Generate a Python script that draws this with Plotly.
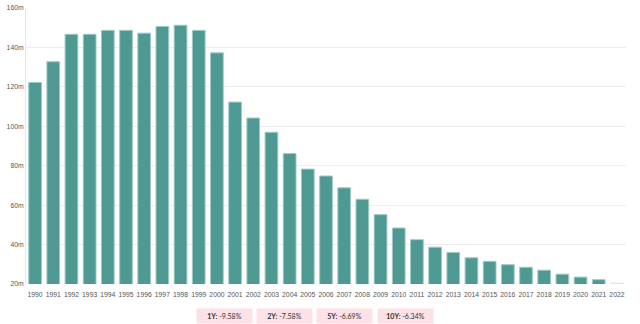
import plotly.graph_objects as go

years = [str(y) for y in range(1990, 2023)]
values = [122.3, 132.8, 146.7, 146.7, 148.7, 148.7, 147.3, 150.7, 151.3, 148.7,
          137.3, 112.3, 104.2, 97.0, 86.2, 78.3, 74.8, 68.8, 63.0, 55.2,
          48.4, 42.5, 38.7, 36.0, 33.3, 31.5, 29.8, 28.5, 27.0, 25.0,
          23.5, 22.2, 20.5]
tick_vals = [20, 40, 60, 80, 100, 120, 140, 160]
tick_text = ["20m", "40m", "60m", "80m", "100m", "120m", "140m", "160m"]
pill_labels = ["1Y:", "2Y:", "5Y:", "10Y:"]
pill_values = ["-9.58%", "-7.58%", "-6.69%", "-6.34%"]

base_color = "#4e9a93"
colors = [base_color] * (len(years) - 1) + ["rgba(78,154,147,0.15)"]
line_colors = ["#9fcbc6"] * (len(years) - 1) + ["rgba(78,154,147,0.15)"]

fig = go.Figure(go.Bar(
    x=years, y=values,
    marker=dict(color=colors, line=dict(color=line_colors, width=1)),
))

fig.update_layout(
    width=640, height=324,
    margin=dict(l=26, r=14, t=4, b=40),
    paper_bgcolor="white", plot_bgcolor="white",
    bargap=0.3,
    showlegend=False,
    font=dict(family="Liberation Sans, Arial, sans-serif", size=7, color="#555"),
    xaxis=dict(type="category", showgrid=False, ticks="", tickfont=dict(size=6.8, color="#555"),
               showline=False, zeroline=False, tickangle=0, ticklabelstandoff=5),
    yaxis=dict(range=[20, 160.05], tickvals=tick_vals, ticktext=tick_text,
               showgrid=True, gridcolor="#ececec", gridwidth=1,
               showline=True, linecolor="#e6e6e6", linewidth=1,
               zeroline=False, ticks="", tickfont=dict(size=6.8, color="#555")),
)

annotations = []
for i, (lab, val) in enumerate(zip(pill_labels, pill_values)):
    cx = 224.2 + i * 60.3
    annotations.append(dict(
        xref="paper", yref="paper",
        x=(cx - 26) / 600, y=(284 - 316.5) / 280,
        xanchor="center", yanchor="middle",
        text="<b>" + lab + "</b> " + val,
        showarrow=False,
        width=53, height=12,
        bgcolor="#fce1e6",
        borderpad=1,
        font=dict(family="Lato, sans-serif", size=7, color="#333"),
    ))
fig.update_layout(annotations=annotations)

fig.write_html("out.html")
